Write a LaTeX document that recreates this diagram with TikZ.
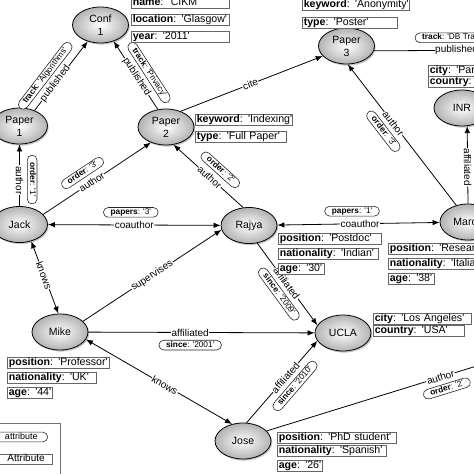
\documentclass[tikz,border=0pt]{standalone}
\usepackage{fontspec}
\setmainfont{Liberation Sans}
\usetikzlibrary{shapes.geometric,shapes.misc,shadows,arrows.meta}
\newcommand{\kv}[2]{\mbox{\textbf{#1}: \textquotesingle #2\textquotesingle}}
\tikzset{
  ent/.style={ellipse, draw=black, line width=0.8pt, minimum width=56pt, minimum height=36pt, inner sep=0pt,
    inner color=white, outer color=black!30,
    drop shadow={shadow xshift=1.2pt, shadow yshift=-1.6pt, opacity=0.45},
    align=center, font=\fontsize{10.5}{13}\selectfont},
  lbl/.style={fill=white, inner sep=0.6pt, font=\fontsize{10}{11}\selectfont},
  eattr/.style={rounded rectangle, draw=black!85, line width=0.6pt, fill=white, inner xsep=5pt, inner ysep=0.8pt,
    text height=6.2pt, text depth=1.9pt, font=\fontsize{8.3}{9}\selectfont},
  nattr/.style={rectangle, draw=black!60, line width=0.6pt, fill=white, anchor=north west, inner xsep=1.5pt,
    inner ysep=0.25pt, text height=8pt, text depth=2.5pt, align=left, text width=#1,
    font=\fontsize{10.6}{12}\selectfont},
  rel/.style={draw=black, line width=0.8pt},
  arr/.style={-{Latex[length=7pt,width=5.5pt]}},
  rarr/.style={{Latex[length=7pt,width=5.5pt]}-},
  darr/.style={{Latex[length=7pt,width=5.5pt]}-{Latex[length=7pt,width=5.5pt]}},
  legbox/.style={draw=black!55, line width=0.7pt}
}
\begin{document}
\begin{tikzpicture}[x=1pt,y=-1pt]
\useasboundingbox (0,0) rectangle (474,474);
\clip (0,0) rectangle (474,474);

% entity nodes
\node[ent] (conf1)  at (100.5,25)  {Conf\\1};
\node[ent] (paper1) at (19.5,126)  {Paper\\1};
\node[ent] (paper2) at (166,127)   {Paper\\2};
\node[ent] (paper3) at (346.5,46)  {Paper\\3};
\node[ent] (inr)    at (462,108)   {INR};
\node[ent] (jack)   at (19.5,224.5){Jack};
\node[ent] (rajya)  at (249,225.5) {Rajya};
\node[ent] (marc)   at (468,222)   {Marco};
\node[ent] (mike)   at (60,332)    {Mike};
\node[ent] (ucla)   at (343,333)   {UCLA};
\node[ent] (jose)   at (243,441)   {Jose};
\coordinate (conf2) at (530,50);
\coordinate (paperx) at (530,349.5);

% relations
\draw[rel,arr] (paper1.46) -- node[lbl,sloped,pos=0.39]{published}
  node[eattr,sloped,pos=0.39,above=7.5pt]{\kv{track}{Algorithms}} (conf1.232);
\draw[rel,rarr] (conf1.309) -- node[lbl,sloped,pos=0.52]{published}
  node[eattr,sloped,pos=0.56,above=7.5pt]{\kv{track}{Privacy}} (paper2.115);
\draw[rel,arr] (paper2.47) -- node[lbl,sloped,pos=0.49]{cite} (paper3.203);
\draw[rel,rarr] (paper1) -- node[lbl,sloped,pos=0.58]{author}
  node[eattr,sloped,pos=0.57,above=7.5pt]{\kv{order}{1}} (jack);
\draw[rel,arr] (jack.23) -- node[lbl,sloped,pos=0.45]{author}
  node[eattr,sloped,pos=0.43,above=7.5pt]{\kv{order}{3}} (paper2.226);
\draw[rel,rarr] (paper2.293) -- node[lbl,sloped,pos=0.52]{author}
  node[eattr,sloped,pos=0.55,above=7.5pt]{\kv{order}{2}} (rajya.108);
\draw[rel,darr] (jack) -- node[lbl,pos=0.5]{coauthor}
  node[eattr,pos=0.48,above=7.5pt]{\kv{papers}{3}} (rajya);
\draw[rel,darr] (rajya) -- node[lbl,pos=0.51]{coauthor}
  node[eattr,pos=0.46,above=7.5pt]{\kv{papers}{1}} (marc);
\draw[rel,darr] (jack.-55) -- node[lbl,sloped,pos=0.47]{knows} (mike.95);
\draw[rel,arr] (mike.25) -- node[lbl,sloped,pos=0.5]{supervises} (rajya.189);
\draw[rel,arr] (mike) -- node[lbl,pos=0.45]{affiliated}
  node[eattr,pos=0.45,below=7.5pt]{\kv{since}{2001}} (ucla);
\draw[rel,darr] (mike.-16) -- node[lbl,sloped,pos=0.54]{knows} (jose.123);
\draw[rel,arr] (jose.79) -- node[lbl,sloped,pos=0.55]{affiliated}
  node[eattr,sloped,pos=0.55,below=7.5pt]{\kv{since}{2010}} (ucla.197);
\draw[rel,arr] (rajya.-65) -- node[lbl,sloped,pos=0.49]{affiliated}
  node[eattr,sloped,pos=0.53,below=7.5pt]{\kv{since}{2009}} (ucla.163);
\draw[rel,rarr] (inr.-74) -- node[lbl,sloped,pos=0.53]{affiliated} (marc.north);
\draw[rel,rarr] (paper3.-86) -- node[lbl,sloped,pos=0.42]{author}
  node[eattr,sloped,pos=0.42,below=7.5pt]{\kv{order}{3}} (marc.125);
\draw[rel,arr] (paper3.-10) -- node[lbl,pos=0.53]{published}
  node[eattr,pos=0.51,above=7.5pt]{\kv{track}{DB Track}} (conf2);
\draw[rel,arr] (jose.23) -- node[lbl,sloped,pos=0.66]{author}
  node[eattr,sloped,pos=0.67,below=7.5pt]{\kv{order}{2}} (paperx);

% node attributes
\node[nattr=95.4pt] (c1a) at (131,-3.5) {\kv{name}{CIKM}};
\node[nattr=95.4pt] (c1b) at (131,13.5) {\kv{location}{Glasgow}};
\node[nattr=95.4pt] (c1c) at (131,31)   {\kv{year}{2011}};
\node[nattr=104.4pt] (p3a) at (302,-1)  {\kv{keyword}{Anonymity}};
\node[nattr=92.4pt] (p3b) at (302,16.5) {\kv{type}{Poster}};
\node[nattr=94.4pt] (p2a) at (195,114)  {\kv{keyword}{Indexing}};
\node[nattr=88.4pt] (p2b) at (195,131)  {\kv{type}{Full Paper}};
\node[nattr=80pt] (ia) at (428,65) {\kv{city}{Paris}};
\node[nattr=80pt] (ib) at (428,76) {\kv{country}{France}};
\node[nattr=100.4pt] (ra) at (278,233) {\kv{position}{Postdoc}};
\node[nattr=97.4pt]  (rb) at (278,248) {\kv{nationality}{Indian}};
\node[nattr=43.4pt]  (rc) at (278,263) {\kv{age}{30}};
\node[nattr=106.4pt] (ma) at (388,243) {\kv{position}{Researcher}};
\node[nattr=106.4pt] (mb) at (388,257.5) {\kv{nationality}{Italian}};
\node[nattr=43.4pt]  (mc) at (388,273) {\kv{age}{38}};
\node[nattr=99.4pt] (ka) at (7,357) {\kv{position}{Professor}};
\node[nattr=86.4pt] (kb) at (7,372) {\kv{nationality}{UK}};
\node[nattr=42.4pt] (kc) at (7,387) {\kv{age}{44}};
\node[nattr=95.4pt] (ua) at (373,313) {\kv{city}{Los Angeles}};
\node[nattr=88.4pt] (ub) at (373,325) {\kv{country}{USA}};
\node[nattr=116.4pt] (ja) at (277,432) {\kv{position}{PhD student}};
\node[nattr=106.4pt] (jb) at (277,445) {\kv{nationality}{Spanish}};
\node[nattr=42.4pt]  (jc) at (277,460) {\kv{age}{26}};

% legend
\draw[legbox] (-10,423) rectangle (60,490);
\node[eattr, anchor=east, text width=60pt, align=right, inner xsep=8pt, font=\fontsize{9}{10}\selectfont] (lege) at (48,437) {attribute};
\node[rectangle, draw=black!60, line width=0.6pt, fill=white, anchor=east, text width=60pt, align=right, inner xsep=8pt, inner ysep=0.25pt, text height=7.5pt, text depth=2.3pt, font=\fontsize{10}{11}\selectfont] (legn) at (53,459) {Attribute};
\end{tikzpicture}
\end{document}
